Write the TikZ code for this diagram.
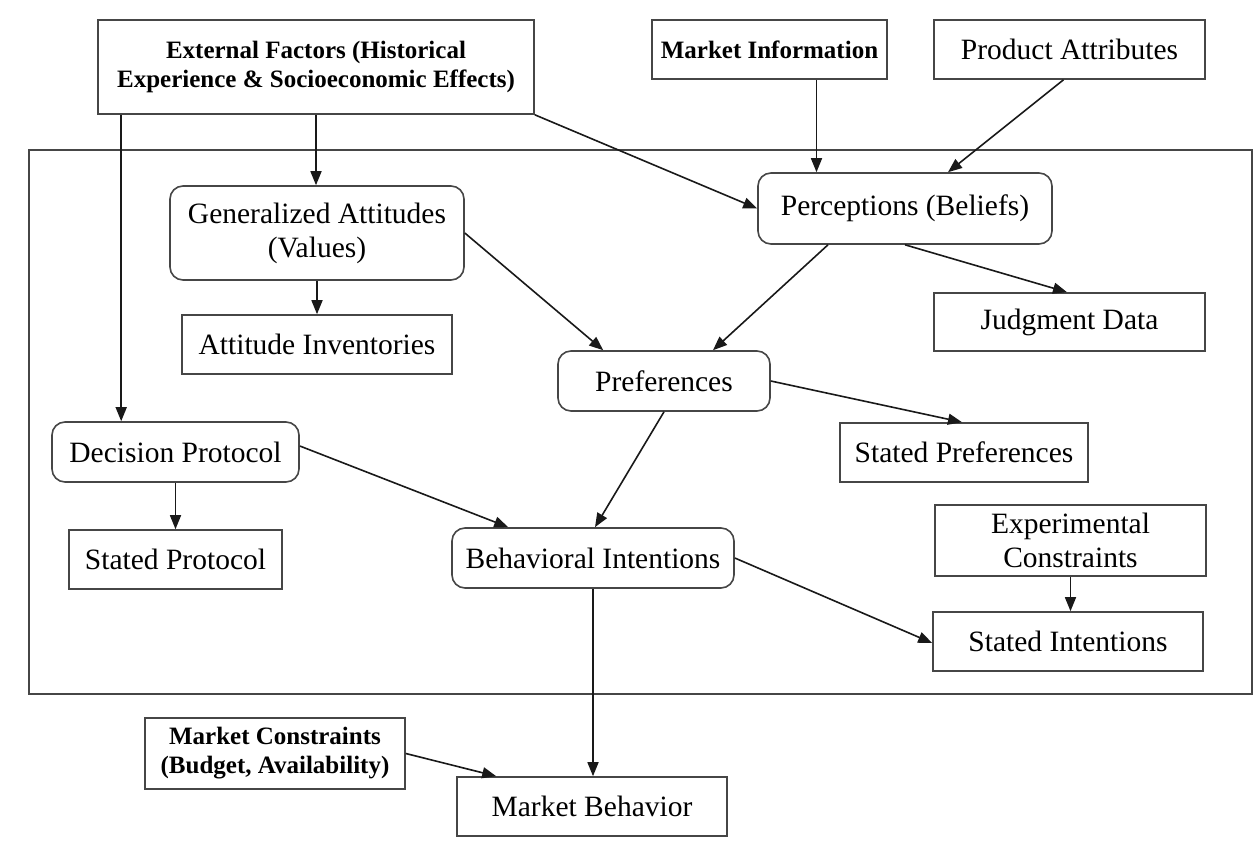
\documentclass[tikz,border=0pt]{standalone}
\usepackage{fontspec}
\setmainfont{Liberation Serif}
\usetikzlibrary{arrows.meta}
\definecolor{boxline}{RGB}{70,70,70}
\definecolor{arrowline}{RGB}{25,25,25}
\tikzset{
  plainbox/.style={draw=boxline, line width=1.6pt, inner sep=0pt, align=center,
    font=\fontsize{29.5}{34}\selectfont},
  roundbox/.style={plainbox, rounded corners=13pt},
  boldbox/.style={plainbox, font=\fontsize{25}{29}\selectfont\bfseries},
  conn/.style={draw=arrowline, line width=1.6pt, -{Triangle[length=14pt,width=11pt]}},
}
\begin{document}
\begin{tikzpicture}[x=1pt,y=-1pt]
\useasboundingbox (0,0) rectangle (1259,861);
% container
\draw[draw=boxline, line width=1.6pt] (29,150) rectangle (1252,694);
% nodes
\node[boldbox, minimum width=436pt, minimum height=94pt] (extf) at (316,67) {External Factors (Historical\\Experience \& Socioeconomic Effects)};
\node[boldbox, minimum width=235pt, minimum height=59pt] (minfo) at (769.5,49.5) {Market Information};
\node[plainbox, minimum width=271pt, minimum height=59pt] (pattr) at (1069.5,49.5) {Product Attributes};
\node[roundbox, minimum width=294pt, minimum height=94pt] (genatt) at (317,233) {Generalized Attitudes\\(Values)};
\node[roundbox, minimum width=294pt, minimum height=71pt] (perc) at (905,208.5) {Perceptions (Beliefs)};
\node[plainbox, minimum width=270pt, minimum height=59pt] (attinv) at (317,344.5) {Attitude Inventories};
\node[plainbox, minimum width=271pt, minimum height=58pt] (jd) at (1069.5,322) {Judgment Data};
\node[roundbox, minimum width=212pt, minimum height=60pt] (pref) at (664,381) {Preferences};
\node[roundbox, minimum width=247pt, minimum height=60pt] (decp) at (175.5,452) {Decision Protocol};
\node[plainbox, minimum width=248pt, minimum height=59pt] (sp) at (964,452.5) {Stated Preferences};
\node[plainbox, minimum width=213pt, minimum height=59pt] (sprot) at (175.5,559.5) {Stated Protocol};
\node[roundbox, minimum width=282pt, minimum height=60pt] (behint) at (593,558) {Behavioral Intentions};
\node[plainbox, minimum width=271pt, minimum height=71pt] (ec) at (1070.5,540.5) {Experimental\\Constraints};
\node[plainbox, minimum width=270pt, minimum height=59pt] (si) at (1068,641.5) {Stated Intentions};
\node[boldbox, minimum width=260pt, minimum height=71pt] (mc) at (275,753.5) {Market Constraints\\(Budget, Availability)};
\node[plainbox, minimum width=270pt, minimum height=59pt] (mb) at (592,806.5) {Market Behavior};
% connectors
\coordinate (exl) at ([xshift=24pt]extf.south west);
\draw[conn] (exl) -- (exl |- decp.north);
\draw[conn] (extf.south) -- (extf.south |- genatt.north);
\draw[conn] (extf.south east) -- (perc.west);
\coordinate (mis) at ([xshift=47pt]minfo.south);
\draw[conn] (mis) -- (mis |- perc.north);
\draw[conn] ([xshift=-6pt]pattr.south) -- ([xshift=43pt]perc.north);
\draw[conn] (genatt.south) -- (attinv.north);
\draw[conn] (genatt.east) -- ([xshift=46pt]pref.north west);
\draw[conn] ([xshift=-77pt]perc.south) -- ([xshift=49pt]pref.north);
\draw[conn] (perc.south) -- ([xshift=-2.5pt]jd.north);
\draw[conn] (pref.east) -- ([xshift=-2pt]sp.north);
\draw[conn] (pref.south) -- ([xshift=2pt]behint.north);
\draw[conn] ([yshift=6pt]decp.east) -- ([xshift=57pt]behint.north west);
\draw[conn] (decp.south) -- (sprot.north);
\draw[conn] (behint.east) -- ([yshift=-1.5pt]si.west);
\draw[conn] (behint.south) -- (behint.south |- mb.north);
\draw[conn] (ec.south) -- (ec.south |- si.north);
\draw[conn] (mc.east) -- ([xshift=40pt]mb.north west);
\end{tikzpicture}
\end{document}
